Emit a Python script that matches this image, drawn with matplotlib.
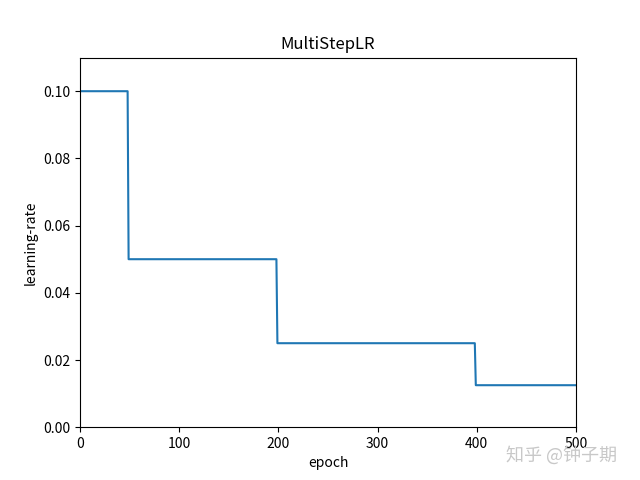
import matplotlib
matplotlib.use("Agg")
import matplotlib.pyplot as plt

plt.rcParams['font.family'] = ['Noto Sans CJK SC', 'DejaVu Sans']
plt.rcParams['axes.unicode_minus'] = False

# epochs where the learning rate changes (corners of the step curve)
epoch = [0, 48, 49, 198, 199, 398, 399, 500]
lr = [0.1, 0.1, 0.05, 0.05, 0.025, 0.025, 0.0125, 0.0125]

fig = plt.figure(figsize=(6.4, 4.8), dpi=100)
plt.plot(epoch, lr)
plt.xlim(0, 500)
plt.ylim(0, 0.11)
plt.yticks([0.0, 0.02, 0.04, 0.06, 0.08, 0.10])
plt.title("MultiStepLR")
plt.xlabel("epoch")
plt.ylabel("learning-rate")

# watermark from the source image
fig.text(0.79, 0.04, "知乎 @钟子期", fontsize=13, color="#c8c8c8")

plt.savefig("out.png")
